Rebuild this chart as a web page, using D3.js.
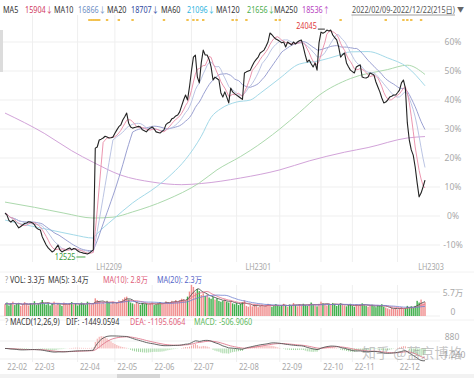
<!DOCTYPE html>
<html>
<head>
<meta charset="utf-8">
<script src="https://cdn.jsdelivr.net/npm/d3@7"></script>
<style>
  body { margin: 0; background: #fff; }
  svg { display: block; font-family: "Noto Sans", "Noto Sans CJK SC", sans-serif; }
</style>
</head>
<body>
<svg id="chart" width="474" height="378"></svg>
<script>
// ---- values ----
const monthStarts = [0, 14, 37, 56, 75, 95, 118, 140, 161, 177, 200];
const monthLabels = ["22-02", "22-03", "22-04", "22-05", "22-06", "22-07", "22-08", "22-09", "22-10", "22-11", "22-12"];

// daily close, % change vs. base (right axis)
const closePct = [
  1.0, 0.3, -1.5, -2.1, -1.4, -2.0, -3.1, -4.1, -3.6, -3.1,
  -2.6, -2.4, -2.0, -2.1, -2.4, -3.0, -4.1, -4.6, -4.8, -7.2,
  -8.6, -10.0, -11.0, -11.7, -12.4, -12.0, -11.0, -10.0, -11.7, -12.4,
  -12.0, -11.7, -11.3, -11.0, -11.7, -11.2, -11.4, -12.0, -12.4, -12.6,
  -12.8, -12.9, -13.1, -12.8, -12.2, -11.7, 23.4, 23.8, 26.2, 26.5,
  26.9, 27.5, 27.2, 26.9, 27.0, 27.2, 28.5, 29.7, 30.8, 31.4,
  33.1, 34.2, 35.5, 32.0, 30.7, 30.3, 30.5, 30.7, 30.9, 30.7,
  29.7, 29.4, 29.0, 29.8, 30.3, 30.7, 30.0, 29.0, 28.8, 28.6,
  29.2, 29.7, 31.5, 32.1, 32.4, 33.5, 33.8, 34.5, 34.8, 35.9,
  38.0, 40.0, 41.7, 40.0, 44.5, 50.0, 54.8, 55.5, 48.0, 45.9,
  52.8, 57.2, 55.5, 55.5, 54.0, 51.4, 46.9, 47.9, 47.4, 46.9,
  42.4, 41.0, 42.8, 41.0, 39.0, 44.1, 42.8, 42.2, 41.7, 41.2,
  40.7, 40.2, 49.3, 49.7, 50.0, 50.3, 51.8, 53.1, 54.0, 54.8,
  56.2, 56.7, 57.2, 58.5, 60.0, 63.1, 62.5, 61.7, 61.0, 60.7,
  60.2, 59.7, 60.0, 58.3, 60.0, 59.5, 59.0, 60.0, 59.3, 60.0,
  60.4, 60.7, 58.3, 55.5, 53.1, 53.8, 52.5, 51.4, 52.8, 50.3,
  59.7, 63.4, 63.0, 63.4, 64.1, 63.8, 64.1, 62.4, 61.5, 60.7,
  58.3, 54.8, 55.6, 56.2, 52.8, 51.5, 50.3, 49.8, 49.3, 51.4,
  51.8, 52.1, 47.9, 47.7, 47.6, 47.9, 49.3, 49.0, 48.6, 46.2,
  44.5, 42.8, 40.7, 39.0, 39.3, 40.0, 41.0, 41.3, 41.7, 41.7,
  42.5, 43.4, 45.9, 46.9, 44.1, 32.1, 26.2, 22.8, 21.0, 16.9,
  11.4, 6.6, 7.9, 10.0, 12.4
];

// daily volume, 万
const volumes = [
  2.8, 3.2, 2.5, 3.0, 3.4, 2.6, 2.9, 3.1, 2.4, 2.7, 3.3, 2.9, 2.5, 3.0, 2.8, 3.5, 2.6, 2.9, 3.2, 3.8, 3.0,
  2.7, 3.1, 2.5, 2.9, 3.4, 2.6, 3.0, 2.8, 2.4, 3.2, 2.9, 2.6, 3.1, 3.3, 2.7, 3.0, 2.5, 2.8, 3.2, 2.9, 2.6, 3.4, 3.0, 2.7, 3.1,
  4.2, 3.8, 3.5, 3.0, 3.3, 2.9, 3.6, 3.1, 2.8, 3.4, 3.0, 3.2, 3.7, 3.5, 4.0, 4.4, 4.6, 3.9, 3.2, 3.0,
  2.8, 3.3, 2.9, 2.6, 3.1, 2.8, 3.0, 2.7, 2.9, 3.2, 2.6, 2.8, 3.0, 3.3, 2.9, 3.1, 3.5, 3.2, 3.0, 3.6,
  3.4, 3.8, 3.3, 3.7, 4.1,
  4.0, 3.6, 4.6, 5.8, 7.4, 6.9, 5.6, 6.4, 5.9, 5.0, 5.4, 4.8, 5.1, 4.4, 4.1, 4.5, 3.9, 4.2, 3.6, 3.4,
  3.6, 3.9, 3.4, 3.2, 3.5, 3.0, 2.8, 3.1, 2.6, 2.9, 3.3, 3.7, 2.4, 2.2, 2.6, 2.3, 2.8, 2.5, 2.1, 2.4,
  2.7, 2.3, 2.5, 2.9, 2.6, 2.2, 2.4, 2.8, 2.5, 2.3, 2.6, 2.9, 2.4, 2.2, 2.7, 2.5, 3.1, 2.6, 2.3, 2.8,
  2.5, 2.9, 2.6, 2.4, 2.8, 3.2, 2.7, 2.5, 2.3, 2.9, 3.4, 3.0, 2.7, 2.5, 2.8, 2.6, 3.1, 2.9, 2.4, 2.7,
  3.0, 2.8, 2.5, 2.3, 2.6, 2.9, 2.4, 2.2, 2.7, 2.5, 2.8, 3.0, 2.6, 2.4, 2.2, 2.5, 2.7, 2.3, 2.1, 2.6,
  2.4, 2.8, 2.2, 2.0,
  1.8, 1.6, 2.0, 1.7, 1.9, 1.5, 1.8, 2.1, 1.7, 1.9, 2.4, 2.0, 2.3, 1.9, 2.4, 3.6, 3.2, 3.9, 3.0, 3.3
];

// long moving averages, read as [day, %] points
const ma60Pts = [
  [0, -1.4], [10, -3.0], [23, -4.8], [35, -6.5], [45, -7.6], [46, -6.8], [55, -1.2], [65, 4.5],
  [77, 10.0], [85, 14.5], [92, 19.5], [100, 27.5], [105, 34.0], [110, 37.0], [118, 39.3], [125, 40.0],
  [130, 42.3], [140, 47.5], [150, 52.4], [160, 53.5], [170, 55.4], [176, 56.6], [185, 56.7],
  [195, 54.5], [205, 51.3], [214, 44.9]
];
const ma120Pts = [
  [0, 4.8], [15, 3.0], [30, 1.0], [45, -0.7], [55, -0.4], [65, 1.4], [82, 5.5], [99, 11.4],
  [108, 15.9], [120, 20.5], [125, 22.6], [140, 30.0], [150, 35.7], [160, 41.6], [176, 47.4],
  [195, 50.5], [205, 52.0], [214, 48.8]
];
const ma250Pts = [
  [0, 35.5], [20, 28.5], [34, 22.5], [45, 18.5], [59, 14.1], [75, 11.7], [90, 10.8], [100, 11.2],
  [120, 13.1], [140, 15.9], [155, 19.0], [173, 22.0], [185, 23.6], [205, 26.9], [214, 27.4]
];

const pctTicks = [-10, 0, 10, 20, 30, 40, 50, 60];
const volTicks = [0, 5.7];
const volTickLabels = ["0", "5.7万"];
const macdTicks = [880, -1240];

const maNames = ["MA5", "MA10", "MA20", "MA60", "MA120", "MA250"];
const maValues = ["15904↓", "16866↓", "18707↓", "21096↓", "21656↓", "18536↑"];
const dateRange = "2022/02/09-2022/12/22(215日)";

const contractDays = [46, 122, 210];
const contractLabels = ["LH2209", "LH2301", "LH2303"];
const eventDays = [43, 44, 45, 46, 47, 48, 52, 58, 65, 81, 93, 96, 98, 101, 116, 118, 123, 138, 140, 171, 194, 203, 205, 207, 212];
const maxLabel = "24045";
const minLabel = "12525";

const volTitle = ["?", "VOL: 3.3万", "MA(5): 3.4万", "MA(10): 2.8万", "MA(20): 2.3万"];
const macdTitle = ["?", "MACD(12,26,9)", "DIF:", "-1449.0594", "DEA:", "-1195.6064", "MACD:", "-506.9060"];
const watermark = "知乎 @蓝京博格";
const basePrice = 14550;

// ---- layout & style ----
const FONT = 8.5;
const SQUEEZE = 0.85; // the screenshot text is narrower than the installed fonts
const legendNameX = [3, 54, 107, 161, 216, 274];
const legendValX = [25, 78, 131, 187, 247, 302];
const volTitleX = [5, 10, 48, 103, 157];
const volTitleColor = ["#999", "#333", "#333", "#e0607a", "#5566c8"];
const macdTitleX = [5, 10, 66, 82, 130, 148, 194, 219];
const macdTitleColor = ["#999", "#333", "#333", "#333", "#e0607a", "#e0607a", "#5cb85c", "#5cb85c"];
const maLineColor = ["#e98aa6", "#b3bde0", "#8e95cc", "#a3d9e8", "#acd9ad", "#d2a3d9"];
const maTextColor = ["#d03a62", "#6f8fc4", "#2f4aa0", "#33b5e0", "#4cae4c", "#b83fbf"];
const GRID = "#efefef";
const AXIS_TEXT = "#a8a8a8";
const WIDTH = 474;

const svg = d3.select("#chart");

const x = d3.scaleLinear().domain([0, closePct.length - 1]).range([5, 425]);
const yMain = d3.scaleLinear().domain([-10, 60]).range([245, 42]);
const yVol = d3.scaleLinear().domain([0, 5.7]).range([316, 292]);
const yMacd = d3.scaleLinear().domain([-1240, 880]).range([359, 341]);

// narrow text helper: text is drawn at the origin of a squeezed transform
function label(g, px, py, str, color, anchor) {
  return g.append("text")
    .attr("transform", `translate(${px},${py}) scale(${SQUEEZE},1)`)
    .attr("dy", "0.35em")
    .attr("font-size", FONT)
    .attr("text-anchor", anchor || "start")
    .attr("fill", color)
    .text(str);
}

// ---- derived indicators ----
const movingAvg = (arr, n) =>
  arr.map((_, i) => d3.mean(arr.slice(Math.max(0, i - n + 1), i + 1)));
const ema = (arr, n) => {
  const k = 2 / (n + 1);
  const out = [];
  arr.forEach((v, i) => out.push(i === 0 ? v : v * k + out[i - 1] * (1 - k)));
  return out;
};
const prices = closePct.map((p) => basePrice * (1 + p / 100));
const ema12 = ema(prices, 12);
const ema26 = ema(prices, 26);
const dif = ema12.map((v, i) => v - ema26[i]);
const dea = ema(dif, 9);
const hist = dif.map((v, i) => 2 * (v - dea[i]));
const isUp = closePct.map((v, i) => i === 0 || v >= closePct[i - 1]);

// ---- grid ----
const grid = svg.append("g").attr("class", "grid");
[[15, 262], [285, 318], [328, 362]].forEach(([y0, y1]) => {
  grid.append("g")
    .selectAll("line")
    .data(monthStarts.slice(1))
    .join("line")
    .attr("x1", (d) => x(d)).attr("x2", (d) => x(d))
    .attr("y1", y0).attr("y2", y1)
    .attr("stroke", GRID);
});
[[pctTicks, yMain], [volTicks, yVol], [macdTicks, yMacd]].forEach(([ticks, scale]) => {
  grid.append("g")
    .selectAll("line")
    .data(ticks)
    .join("line")
    .attr("x1", 0).attr("x2", 440)
    .attr("y1", (d) => scale(d)).attr("y2", (d) => scale(d))
    .attr("stroke", GRID);
});
[272, 320].forEach((y) =>
  grid.append("line").attr("x1", 0).attr("x2", WIDTH).attr("y1", y).attr("y2", y).attr("stroke", "#f2f2f2")
);

// ---- right axes ----
function styleAxis(g, offsetFn) {
  g.attr("font-size", null).attr("font-family", null);
  g.select(".domain").remove();
  g.selectAll(".tick line").remove();
  g.selectAll(".tick text")
    .attr("x", 0)
    .attr("y", offsetFn || 0)
    .attr("dy", "0.35em")
    .attr("text-anchor", "middle")
    .attr("fill", AXIS_TEXT)
    .attr("font-size", FONT);
}
svg.append("g")
  .attr("transform", "translate(453,0)")
  .call(d3.axisRight(yMain).tickValues(pctTicks).tickFormat((d) => d + "%"))
  .call((g) => styleAxis(g));
svg.append("g")
  .attr("transform", "translate(453,0)")
  .call(d3.axisRight(yVol).tickValues(volTicks).tickFormat((d, i) => volTickLabels[i]))
  .call((g) => styleAxis(g, (d) => (d === 0 ? -4 : 1)));
svg.append("g")
  .attr("transform", "translate(452,0)")
  .call(d3.axisRight(yMacd).tickValues(macdTicks))
  .call((g) => styleAxis(g, -4));

// ---- date axis ----
svg.append("g")
  .attr("transform", "translate(0,364)")
  .call(d3.axisBottom(x).tickValues(monthStarts).tickSize(0).tickPadding(0)
    .tickFormat((d, i) => monthLabels[i]))
  .call((g) => {
    g.attr("font-size", null).attr("font-family", null);
    g.select(".domain").remove();
    g.selectAll(".tick text")
      .attr("text-anchor", "start")
      .attr("dx", 2)
      .attr("fill", AXIS_TEXT)
      .attr("font-size", FONT)
      .attr("transform", `scale(${SQUEEZE + 0.05},1)`);
  });

// ---- main panel lines ----
const main = svg.append("g").attr("class", "main");
const dayLine = d3.line().x((d, i) => x(i)).y((d) => yMain(d));
const ptLine = d3.line().x((d) => x(d[0])).y((d) => yMain(d[1])).curve(d3.curveMonotoneX);

[[ma250Pts, 5], [ma120Pts, 4], [ma60Pts, 3]].forEach(([pts, k]) => {
  main.append("path")
    .attr("d", ptLine(pts))
    .attr("fill", "none")
    .attr("stroke", maLineColor[k])
    .attr("stroke-width", 1);
});
[[20, 2], [10, 1], [5, 0]].forEach(([n, k]) => {
  main.append("path")
    .attr("d", dayLine(movingAvg(closePct, n)))
    .attr("fill", "none")
    .attr("stroke", maLineColor[k])
    .attr("stroke-width", 0.9);
});
main.append("path")
  .attr("d", dayLine(closePct))
  .attr("fill", "none")
  .attr("stroke", "#222")
  .attr("stroke-width", 1.1)
  .attr("stroke-linejoin", "round");

// max / min markers
const iMax = d3.maxIndex(closePct);
const iMin = d3.minIndex(closePct);
main.append("line")
  .attr("x1", x(iMax) - 9).attr("x2", x(iMax) - 2)
  .attr("y1", yMain(closePct[iMax]) - 1).attr("y2", yMain(closePct[iMax]) - 1)
  .attr("stroke", "#333");
label(main, x(iMax) - 10, yMain(closePct[iMax]) - 4, maxLabel, "#e03a3a", "end");
main.append("line")
  .attr("x1", x(iMin) - 11).attr("x2", x(iMin) - 2)
  .attr("y1", yMain(closePct[iMin]) + 3).attr("y2", yMain(closePct[iMin]) + 3)
  .attr("stroke", "#4aa84a");
label(main, x(iMin) - 12, yMain(closePct[iMin]) + 3, minLabel, "#3a9a3a", "end");

// contract roll labels
contractDays.forEach((d, i) => label(main, x(d) + 1, 267, contractLabels[i], AXIS_TEXT));

// event dots
main.append("g")
  .selectAll("rect")
  .data(eventDays)
  .join("rect")
  .attr("x", (d) => x(d) - 1.2)
  .attr("y", 19)
  .attr("width", 2.4)
  .attr("height", 2)
  .attr("fill", "#f2c14e");

// ---- legend ----
const legend = svg.append("g");
maNames.forEach((name, i) => {
  label(legend, legendNameX[i], 10, name, "#333");
  label(legend, legendValX[i], 10, maValues[i], maTextColor[i]);
});
const rangeText = label(legend, 455, 10, dateRange, "#555", "end");
const rb = rangeText.node().getBBox();
legend.append("line")
  .attr("x1", 455 - rb.width * SQUEEZE).attr("x2", 455)
  .attr("y1", 15).attr("y2", 15).attr("stroke", "#777").attr("stroke-width", 0.7);
legend.append("text").attr("x", 457).attr("y", 10).attr("dy", "0.35em")
  .attr("font-size", 7).attr("fill", "#666").text("▼");

// ---- volume panel ----
const vol = svg.append("g").attr("class", "vol");
vol.selectAll("rect")
  .data(volumes)
  .join("rect")
  .attr("x", (d, i) => x(i) - 0.7)
  .attr("y", (d) => yVol(d))
  .attr("width", 1.4)
  .attr("height", (d) => yVol(0) - yVol(d))
  .attr("fill", (d, i) => (isUp[i] ? "#f08e8e" : "#3fae4a"));
const volLine = d3.line().x((d, i) => x(i)).y((d) => yVol(d));
[[5, "#444"], [10, "#e8708a"], [20, "#7080d0"]].forEach(([n, c]) => {
  vol.append("path")
    .attr("d", volLine(movingAvg(volumes, n)))
    .attr("fill", "none").attr("stroke", c).attr("stroke-width", 0.8);
});
volTitle.forEach((t, i) => label(vol, volTitleX[i], 280, t, volTitleColor[i]));

// ---- MACD panel ----
const macd = svg.append("g").attr("class", "macd");
macd.selectAll("rect")
  .data(hist)
  .join("rect")
  .attr("x", (d, i) => x(i) - 0.5)
  .attr("y", (d) => Math.min(yMacd(d), yMacd(0)))
  .attr("width", 1)
  .attr("height", (d) => Math.abs(yMacd(d) - yMacd(0)))
  .attr("fill", (d) => (d >= 0 ? "#f3a5a5" : "#9fd49f"));
const macdLine = d3.line().x((d, i) => x(i)).y((d) => yMacd(d));
macd.append("path").attr("d", macdLine(dea)).attr("fill", "none")
  .attr("stroke", "#e07a8e").attr("stroke-width", 0.9);
macd.append("path").attr("d", macdLine(dif)).attr("fill", "none")
  .attr("stroke", "#555").attr("stroke-width", 0.9);
macdTitle.forEach((t, i) => label(macd, macdTitleX[i], 322, t, macdTitleColor[i]));

// ---- chrome: scroll bars & watermark ----
svg.append("rect").attr("x", 0).attr("y", 30).attr("width", 3).attr("height", 42).attr("fill", "#dcdcdc");
svg.append("rect").attr("x", 0).attr("y", 374).attr("width", WIDTH).attr("height", 4).attr("fill", "#f2f2f2");
svg.append("rect").attr("x", 117).attr("y", 374).attr("width", 43).attr("height", 4).attr("fill", "#d6d6d6");
svg.append("text")
  .attr("x", 362).attr("y", 353).attr("dy", "0.35em")
  .attr("font-family", "'Noto Sans CJK SC', sans-serif")
  .attr("font-size", 14)
  .attr("fill", "rgba(140,140,140,0.5)")
  .text(watermark);
</script>
</body>
</html>
